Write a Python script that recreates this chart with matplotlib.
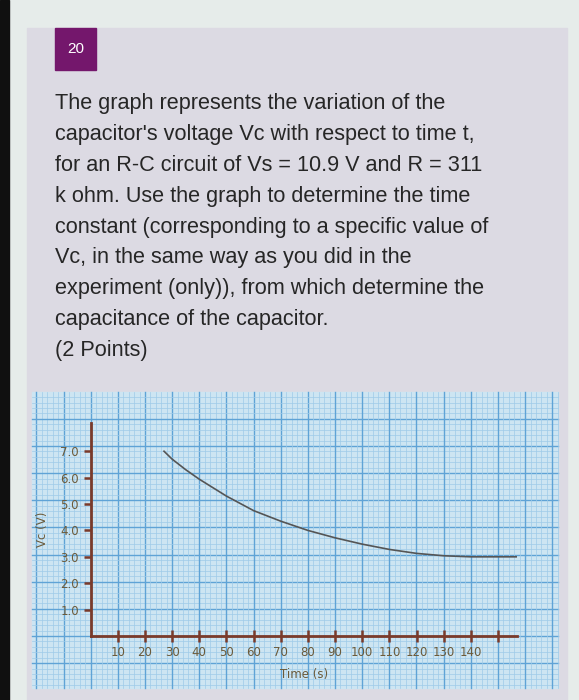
import matplotlib
matplotlib.use("Agg")
import matplotlib.pyplot as plt
from matplotlib.patches import Rectangle

W, H = 579, 700

# curve
time_s = [27, 30, 35, 40, 50, 60, 70, 80, 90, 100, 110, 120, 130, 140, 150, 157]
vc = [7.0, 6.7, 6.3, 5.94, 5.3, 4.75, 4.35, 4.0, 3.72, 3.48, 3.28, 3.13, 3.04, 3.0, 3.0, 3.0]
xticks = [10, 20, 30, 40, 50, 60, 70, 80, 90, 100, 110, 120, 130, 140, 150]
xlabels = ["10", "20", "30", "40", "50", "60", "70", "80", "90", "100", "110", "120", "130", "140", ""]
yticks = [1.0, 2.0, 3.0, 4.0, 5.0, 6.0, 7.0]

lines = [
    "The graph represents the variation of the",
    "capacitor's voltage Vc with respect to time t,",
    "for an R-C circuit of Vs = 10.9 V and R = 311",
    "k ohm. Use the graph to determine the time",
    "constant (corresponding to a specific value of",
    "Vc, in the same way as you did in the",
    "experiment (only)), from which determine the",
    "capacitance of the capacitor.",
    "(2 Points)",
]

fig = plt.figure(figsize=(W / 100, H / 100), dpi=100)
fig.patch.set_facecolor("#e6ecea")

bg = fig.add_axes([0, 0, 1, 1])
bg.set_xlim(0, W)
bg.set_ylim(H, 0)
bg.axis("off")
bg.add_patch(Rectangle((0, 0), 9, H, color="#101010"))
bg.add_patch(Rectangle((27, 28), 540, H - 28, color="#dcdae3"))
bg.add_patch(Rectangle((55, 28), 41, 42, color="#74176c"))
bg.text(75.5, 49, "20", color="white", fontsize=11, ha="center", va="center", family="Liberation Sans")
for i, ln in enumerate(lines):
    bg.text(55, 104 + i * 30.8, ln, fontsize=15.6, color="#262626", va="center",
            family="Liberation Sans", stretch="condensed")

# grid paper panel
px0, px1, py0, py1 = 32, 558, 392, 688
bg.add_patch(Rectangle((px0, py0), px1 - px0, py1 - py0, color="#cde5f2"))
step = 27.15 / 5
ox, oy = 90.7, 636
for k in range(-20, 100):
    x = ox + k * step
    if px0 <= x <= px1:
        major = k % 5 == 0
        bg.plot([x, x], [py0, py1], color="#5fa3d6" if major else "#9fcbe8",
                lw=1.0 if major else 0.5)
    y = oy - k * step
    if py0 <= y <= py1:
        major = k % 5 == 0
        bg.plot([px0, px1], [y, y], color="#5fa3d6" if major else "#9fcbe8",
                lw=1.0 if major else 0.5)

ax = fig.add_axes([90.7 / W, (H - 636) / H, (517 - 90.7) / W, (636 - 423) / H])
ax.patch.set_alpha(0)
ax.set_xlim(0, 157)
ax.set_ylim(0, 8.07)
ax.plot(time_s, vc, color="#555555", lw=1.2)
for s in ["top", "right"]:
    ax.spines[s].set_visible(False)
for s in ["left", "bottom"]:
    ax.spines[s].set_color("#7a3a2a")
    ax.spines[s].set_linewidth(2)
ax.set_xticks(xticks)
ax.set_xticklabels(xlabels)
ax.set_yticks(yticks)
ax.set_yticklabels([f"{v:.1f}" for v in yticks])
ax.tick_params(axis="both", colors="#7a3a2a", labelcolor="#6b5a3a", labelsize=8.5,
               length=5, width=1.8)
ax.tick_params(axis="x", direction="inout", length=8)
ax.tick_params(axis="y", direction="out")
ax.set_xlabel("Time (s)", fontsize=8.5, color="#6b5a3a", labelpad=6)
ax.set_ylabel("Vc (V)", fontsize=8.5, color="#6b5a3a", labelpad=8)

fig.savefig("out.png", dpi=100, facecolor=fig.get_facecolor())
